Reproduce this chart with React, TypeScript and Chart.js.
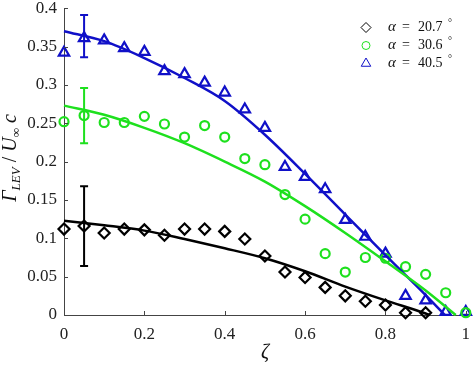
import React, { useEffect, useRef } from 'react';
import { Chart, registerables } from 'chart.js';
import { drawPoint } from 'chart.js/helpers';

Chart.register(...registerables);

// measured positions along span
const zeta = [0, 0.05, 0.1, 0.15, 0.2, 0.25, 0.3, 0.35, 0.4, 0.45, 0.5, 0.55, 0.6, 0.65, 0.7, 0.75, 0.8, 0.85, 0.9, 0.95, 1.0];
const zetaBlack = [0, 0.05, 0.1, 0.15, 0.2, 0.25, 0.3, 0.35, 0.4, 0.45, 0.5, 0.55, 0.6, 0.65, 0.7, 0.75, 0.8, 0.85, 0.9];

const gamma207 = [0.112, 0.116, 0.107, 0.112, 0.111, 0.104, 0.112, 0.112, 0.109, 0.099, 0.077, 0.056, 0.049, 0.036, 0.025, 0.018, 0.013, 0.003, 0.003];
const gamma306 = [0.252, 0.26, 0.251, 0.251, 0.259, 0.249, 0.232, 0.247, 0.232, 0.204, 0.196, 0.157, 0.125, 0.08, 0.056, 0.075, 0.074, 0.063, 0.053, 0.029, 0.003];
const gamma405 = [0.342, 0.361, 0.358, 0.348, 0.343, 0.318, 0.314, 0.303, 0.29, 0.268, 0.244, 0.193, 0.18, 0.164, 0.124, 0.102, 0.08, 0.025, 0.019, 0.004, 0.004];

// fitted curves
const fitZeta207 = [0, 0.1, 0.2, 0.3, 0.4, 0.5, 0.6, 0.7, 0.8, 0.9, 0.91];
const fit207 = [0.123, 0.117, 0.11, 0.099, 0.087, 0.074, 0.057, 0.037, 0.019, 0.002, 0];
const fitZeta306 = [0, 0.1, 0.2, 0.3, 0.4, 0.5, 0.6, 0.7, 0.8, 0.9, 0.975];
const fit306 = [0.273, 0.261, 0.244, 0.224, 0.2, 0.174, 0.142, 0.107, 0.07, 0.032, 0];
const fitZeta405 = [0, 0.1, 0.2, 0.3, 0.4, 0.5, 0.6, 0.7, 0.8, 0.9, 0.948];
const fit405 = [0.37, 0.357, 0.335, 0.309, 0.279, 0.235, 0.184, 0.131, 0.078, 0.026, 0];

// error bars at zeta = 0.05
const errZeta = 0.05;
const errLow = [0.064, 0.224, 0.336];
const errHigh = [0.168, 0.296, 0.391];

const labels = ['20.7', '30.6', '40.5'];
const colors = ['#000000', '#1ee01e', '#1010c8'];
const styles = ['rectRot', 'circle', 'triangle'];
const radii = [5.5, 4.5, 6];

const serif = '"Liberation Serif", "DejaVu Serif", serif';

const toPts = (xs: number[], ys: number[]) => xs.map((x, i) => ({ x, y: ys[i] }));

const overlayPlugin = {
  id: 'overlay',
  afterDatasetsDraw(chart: any) {
    const { ctx, scales } = chart;
    const xs = scales.x;
    const ys = scales.y;
    // error bars
    ctx.save();
    ctx.lineWidth = 2;
    for (let i = 0; i < 3; i++) {
      const px = xs.getPixelForValue(errZeta);
      const y1 = ys.getPixelForValue(errLow[i]);
      const y2 = ys.getPixelForValue(errHigh[i]);
      ctx.strokeStyle = colors[i];
      ctx.beginPath();
      ctx.moveTo(px, y1);
      ctx.lineTo(px, y2);
      ctx.moveTo(px - 4, y1);
      ctx.lineTo(px + 4, y1);
      ctx.moveTo(px - 4, y2);
      ctx.lineTo(px + 4, y2);
      ctx.stroke();
    }
    ctx.restore();
  },
  afterDraw(chart: any) {
    const { ctx, scales, chartArea } = chart;
    const xs = scales.x;
    const ys = scales.y;
    ctx.save();
    // inward tick marks
    ctx.strokeStyle = '#444';
    ctx.lineWidth = 1;
    ctx.beginPath();
    xs.ticks.forEach((t: any) => {
      const px = Math.round(xs.getPixelForValue(t.value)) + 0.5;
      ctx.moveTo(px, chartArea.bottom);
      ctx.lineTo(px, chartArea.bottom - 4);
    });
    ys.ticks.forEach((t: any) => {
      const py = Math.round(ys.getPixelForValue(t.value)) + 0.5;
      ctx.moveTo(chartArea.left, py);
      ctx.lineTo(chartArea.left + 4, py);
    });
    ctx.stroke();

    // legend
    const mx = 366;
    const tx = 388;
    const rowY = [27.5, 45.5, 63.5];
    for (let i = 0; i < 3; i++) {
      ctx.strokeStyle = colors[i];
      ctx.fillStyle = 'rgba(0,0,0,0)';
      drawPoint(ctx, { pointStyle: styles[i], radius: i === 0 ? 5 : i === 1 ? 4 : 5.5, rotation: 0, borderWidth: 2.5 } as any, mx, rowY[i]);
      ctx.fillStyle = '#111';
      ctx.textBaseline = 'middle';
      ctx.textAlign = 'left';
      ctx.font = `italic 15px ${serif}`;
      ctx.fillText('α', tx, rowY[i]);
      ctx.font = `14px ${serif}`;
      ctx.fillText('=', 402, rowY[i]);
      ctx.fillText(labels[i], 418, rowY[i]);
      ctx.font = `10px ${serif}`;
      ctx.fillText('°', 448, rowY[i] - 4);
    }

    // x title
    ctx.fillStyle = '#111';
    ctx.font = `italic 20px ${serif}`;
    ctx.textAlign = 'center';
    ctx.textBaseline = 'middle';
    ctx.fillText('ζ', 265, 353);

    // y title, rotated, with subscripts
    const parts = [
      { t: 'Γ', f: `italic 20px ${serif}`, dy: 0 },
      { t: 'LEV', f: `italic 13px ${serif}`, dy: 4 },
      { t: ' / ', f: `20px ${serif}`, dy: 0 },
      { t: 'U', f: `italic 20px ${serif}`, dy: 0 },
      { t: '∞', f: `italic 13px ${serif}`, dy: 4 },
      { t: ' c', f: `italic 20px ${serif}`, dy: 0 },
    ];
    let total = 0;
    parts.forEach((p) => {
      ctx.font = p.f;
      total += ctx.measureText(p.t).width;
    });
    ctx.translate(16, 158);
    ctx.rotate(-Math.PI / 2);
    ctx.textAlign = 'left';
    ctx.textBaseline = 'alphabetic';
    let cx = -total / 2;
    parts.forEach((p) => {
      ctx.font = p.f;
      ctx.fillText(p.t, cx, p.dy);
      cx += ctx.measureText(p.t).width;
    });
    ctx.restore();
  },
};

export default function App() {
  const ref = useRef<HTMLCanvasElement>(null);
  useEffect(() => {
    const canvas = ref.current!;
    const fmt = (v: any) => String(Number(Number(v).toFixed(2)));
    const markerSets = [
      { xs: zetaBlack, ys: gamma207 },
      { xs: zeta, ys: gamma306 },
      { xs: zeta, ys: gamma405 },
    ];
    const fits = [
      { xs: fitZeta207, ys: fit207 },
      { xs: fitZeta306, ys: fit306 },
      { xs: fitZeta405, ys: fit405 },
    ];
    const datasets: any[] = [];
    for (let i = 0; i < 3; i++) {
      datasets.push({
        type: 'line',
        label: 'fit ' + labels[i],
        data: toPts(fits[i].xs, fits[i].ys),
        borderColor: colors[i],
        borderWidth: 2.5,
        pointRadius: 0,
        fill: false,
        cubicInterpolationMode: 'monotone',
        clip: false,
      });
    }
    for (let i = 0; i < 3; i++) {
      datasets.push({
        type: 'scatter',
        label: 'α = ' + labels[i] + ' °',
        data: toPts(markerSets[i].xs, markerSets[i].ys),
        borderColor: colors[i],
        backgroundColor: 'rgba(0,0,0,0)',
        pointStyle: styles[i],
        pointRadius: radii[i],
        pointBorderWidth: 2.2,
        showLine: false,
        clip: false,
      });
    }
    const chart = new Chart(canvas, {
      type: 'scatter',
      data: { datasets },
      options: {
        animation: false,
        responsive: false,
        devicePixelRatio: 1,
        layout: { padding: 0 },
        plugins: { legend: { display: false }, tooltip: { enabled: false } },
        scales: {
          x: {
            type: 'linear',
            min: 0,
            max: 1,
            grid: { display: false, drawTicks: false },
            border: { display: true, color: '#444', width: 1 },
            ticks: { stepSize: 0.2, font: { family: serif, size: 17 }, color: '#222', padding: 9, maxRotation: 0, callback: fmt },
            afterFit: (s: any) => {
              s.height = 51;
              s.paddingRight = 8;
              s.paddingLeft = 0;
            },
          },
          y: {
            type: 'linear',
            min: 0,
            max: 0.4,
            grid: { display: false, drawTicks: false },
            border: { display: true, color: '#444', width: 1 },
            ticks: { stepSize: 0.05, font: { family: serif, size: 17 }, color: '#222', padding: 7, callback: fmt },
            afterFit: (s: any) => {
              s.width = 64;
              s.paddingTop = 8;
              s.paddingBottom = 0;
            },
          },
        },
      },
      plugins: [overlayPlugin],
    } as any);
    return () => chart.destroy();
  }, []);
  return (
    <div style={{ position: 'fixed', left: 0, top: 0, width: 474, height: 366, background: '#fff' }}>
      <canvas ref={ref} width={474} height={366} style={{ display: 'block', width: 474, height: 366 }} />
    </div>
  );
}
